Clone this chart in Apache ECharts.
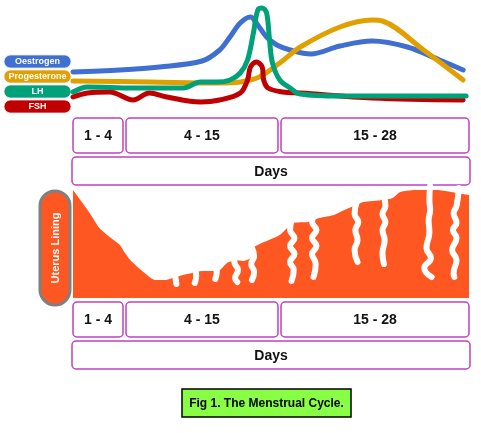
<!DOCTYPE html>
<html lang="en">
<head>
<meta charset="UTF-8">
<title>The Menstrual Cycle</title>
<script src="https://cdn.jsdelivr.net/npm/echarts@6/dist/echarts.min.js"></script>
<style>
    html, body { margin: 0; padding: 0; background: #fff; }
    #main { width: 481px; height: 433px; }
</style>
</head>
<body>
<div id="main"></div>
<script>
    // hormone levels as [day, relative level]
    var hormones = ['Oestrogen', 'Progesterone', 'LH', 'FSH'];
    var oestrogen = [[1, 33], [4.2, 35], [6.9, 38], [9.8, 44], [11, 55], [11.7, 68], [12.4, 82], [13.1, 88], [13.5, 82],
        [14.2, 68], [14.9, 60], [15.8, 55], [17.2, 51], [19.2, 59], [21.4, 64], [23.8, 58], [26, 45], [27.6, 35]];
    var progesterone = [[1, 24], [6.2, 23], [11, 22], [12.4, 23], [13.7, 28], [15.1, 42], [16.5, 58], [19.2, 78],
        [21.4, 85], [22.1, 84], [24.9, 55], [27.6, 25]];
    var lh = [[1, 13], [2, 18], [5.1, 17], [8.5, 17], [9.7, 23], [10.8, 23], [11.7, 25], [12.4, 32], [12.9, 45],
        [13.3, 72], [13.6, 95], [13.9, 97], [14.2, 92], [14.4, 65], [14.6, 42], [15.1, 25], [15.8, 17], [16.5, 11],
        [19.2, 9], [27.8, 9]];
    var fsh = [[1, 8], [2, 12], [3.5, 13], [5.1, 5], [6.2, 12], [7.4, 8], [9.7, 3], [11, 5], [12.4, 12], [12.9, 25],
        [13.1, 38], [13.5, 43], [13.9, 38], [14, 25], [14.3, 17], [15.3, 13], [16.5, 12], [21.4, 7], [27.6, 5]];

    // uterus lining thickness as [day, thickness]
    var lining = [[1, 108], [2, 88], [2.8, 70], [3.5, 61], [4.2, 53], [4.5, 46], [4.9, 38], [5.8, 26], [6.6, 18],
        [7.3, 18], [7.8, 20], [8.5, 23], [9.1, 25], [9.8, 27], [10.9, 27], [11.5, 35], [12.1, 38], [12.6, 37],
        [13.1, 40], [13.35, 51], [15.1, 63], [16, 75], [17, 76], [17.8, 80], [18.8, 83], [19.5, 88], [20.3, 93],
        [20.8, 96], [22.1, 98], [22.8, 100], [23.3, 106], [24.3, 108], [25.8, 108], [27.2, 105], [28, 103]];
    // cracks in the lining
    var liningGaps = [
        [[7.95, 24], [8.05, 14]],
        [[9.3, 30], [9.4, 22], [9.3, 15]],
        [[10.7, 34], [10.8, 26], [10.7, 19]],
        [[12.1, 44], [12.0, 36], [12.25, 28], [12.05, 20], [12.2, 16]],
        [[13.2, 50], [13.35, 42], [13.15, 34], [13.35, 26], [13.2, 18]],
        [[15.95, 80], [15.8, 68], [16.1, 60], [15.8, 52], [16.1, 44], [15.8, 36], [16.05, 28], [15.9, 17]],
        [[17.45, 86], [17.3, 76], [17.6, 68], [17.3, 60], [17.6, 52], [17.3, 44], [17.55, 34], [17.4, 21]],
        [[20.35, 96], [20.2, 84], [20.45, 76], [20.25, 68], [20.4, 58], [20.2, 48], [20.4, 36]],
        [[22.2, 102], [22.3, 92], [22.1, 84], [22.3, 76], [22.1, 68], [22.25, 58], [22.1, 45], [22.2, 34]],
        [[25.35, 112], [25.3, 98], [25.35, 88], [25.25, 78], [25.3, 66], [25.1, 50], [25.4, 40], [24.95, 30], [25.45, 21]],
        [[27.3, 110], [27.15, 92], [26.95, 85], [27.15, 75], [26.9, 68], [27.15, 60], [26.85, 48], [27.15, 38], [26.95, 25], [27.0, 21]]
    ];
    var gapBulges = [[27.05, 68], [27.05, 48]];

    var phaseLabels = ['1 - 4', '4 - 15', '15 - 28'];
    var axisTitle = 'Days';
    var liningLabel = 'Uterus Lining';
    var caption = 'Fig 1. The Menstrual Cycle.';

    var colors = ['#3f6fd0', '#e0a000', '#00a078', '#c00000'];
    var font = '"Liberation Sans", Arial, sans-serif';

    var chart = echarts.init(document.getElementById('main'), null, { renderer: 'canvas' });

    function labelBox(x, y, w, h, text) {
        return [{
            type: 'rect',
            shape: { x: x, y: y, width: w, height: h, r: 4 },
            style: { fill: '#fff', stroke: '#c040c0', lineWidth: 1.5 }
        }, {
            type: 'text',
            style: {
                x: x + w / 2, y: y + h / 2 + 1, text: text,
                fill: '#111', font: 'bold 14px ' + font,
                textAlign: 'center', textVerticalAlign: 'middle',
                align: 'center', verticalAlign: 'middle'
            }
        }];
    }

    function dayRows(top) {
        var cols = [[73, 50], [126, 152], [281, 188]];
        var out = [];
        phaseLabels.forEach(function (lbl, i) {
            out = out.concat(labelBox(cols[i][0], top, cols[i][1], 35, lbl));
        });
        return out.concat(labelBox(72, top + 39, 398, 28, axisTitle));
    }

    var graphics = [];
    // legend pills
    hormones.forEach(function (name, i) {
        var y = 55 + i * 15;
        graphics.push({
            type: 'rect',
            shape: { x: 4, y: y, width: 67, height: 13, r: 6.5 },
            style: { fill: colors[i], stroke: '#e8e8f0', lineWidth: 0.8 }
        });
        graphics.push({
            type: 'text',
            style: {
                x: 37.5, y: y + 7, text: name, fill: '#fff', font: 'bold 9px ' + font,
                textAlign: 'center', textVerticalAlign: 'middle', align: 'center', verticalAlign: 'middle'
            }
        });
    });
    graphics = graphics.concat(dayRows(118), dayRows(302));
    // uterus lining pill
    graphics.push({
        type: 'rect',
        shape: { x: 40, y: 191, width: 30, height: 114, r: 15 },
        style: { fill: '#ff5722', stroke: '#808080', lineWidth: 3 }
    });
    graphics.push({
        type: 'text',
        x: 56, y: 248, rotation: Math.PI / 2,
        style: {
            x: 0, y: 0, text: liningLabel, fill: '#fff', font: 'bold 11px ' + font,
            textAlign: 'center', textVerticalAlign: 'middle', align: 'center', verticalAlign: 'middle'
        }
    });
    // caption
    graphics.push({
        type: 'rect',
        shape: { x: 182, y: 389, width: 169, height: 28 },
        style: { fill: '#88ff44', stroke: '#000', lineWidth: 1.5 }
    });
    graphics.push({
        type: 'text',
        style: {
            x: 266.5, y: 403.5, text: caption, fill: '#000', font: 'bold 12px ' + font,
            textAlign: 'center', textVerticalAlign: 'middle', align: 'center', verticalAlign: 'middle'
        }
    });

    function hormoneLine(name, data, color) {
        return {
            name: name, type: 'line', data: data, xAxisIndex: 0, yAxisIndex: 0,
            smooth: 0.35, symbol: 'none', clip: false,
            lineStyle: { color: color, width: 5, cap: 'round' }
        };
    }

    var series = [
        hormoneLine(hormones[0], oestrogen, colors[0]),
        hormoneLine(hormones[1], progesterone, colors[1]),
        hormoneLine(hormones[3], fsh, colors[3]),
        hormoneLine(hormones[2], lh, colors[2]),
        {
            name: liningLabel, type: 'line', data: lining, xAxisIndex: 1, yAxisIndex: 1,
            smooth: 0.2, symbol: 'none', lineStyle: { width: 0 },
            areaStyle: { color: '#ff5722', opacity: 1 }
        }
    ];
    liningGaps.forEach(function (gap) {
        series.push({
            type: 'line', data: gap, xAxisIndex: 1, yAxisIndex: 1,
            smooth: 0.5, symbol: 'none', clip: false, silent: true,
            lineStyle: { color: '#fff', width: 6, cap: 'round', join: 'round' }
        });
    });
    series.push({
        type: 'scatter', data: gapBulges, xAxisIndex: 1, yAxisIndex: 1,
        symbol: 'diamond', symbolSize: [11, 14], silent: true,
        itemStyle: { color: '#fff' }
    });

    var option = {
        animation: false,
        backgroundColor: '#fff',
        grid: [
            { left: 73, top: 5, width: 396, height: 100 },
            { left: 73, top: 188, width: 396, height: 110 }
        ],
        xAxis: [
            { type: 'value', gridIndex: 0, min: 1, max: 28, show: false },
            { type: 'value', gridIndex: 1, min: 1, max: 28, show: false }
        ],
        yAxis: [
            { type: 'value', gridIndex: 0, min: 0, max: 100, show: false },
            { type: 'value', gridIndex: 1, min: 0, max: 110, show: false }
        ],
        graphic: graphics,
        series: series
    };
    chart.setOption(option);
</script>
</body>
</html>
